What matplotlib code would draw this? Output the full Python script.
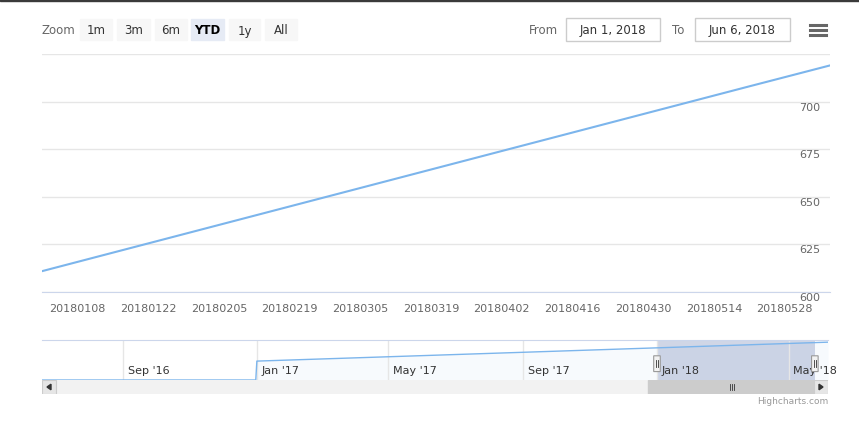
import matplotlib.pyplot as plt
import matplotlib.dates as mdates
import matplotlib.patches as mpatches
import numpy as np
import datetime as dt

W, H = 859, 435

# main series (roughly linear growth)
main_dates = ["2018-01-01", "2018-01-15", "2018-01-29", "2018-02-12", "2018-02-26",
              "2018-03-12", "2018-03-26", "2018-04-09", "2018-04-23", "2018-05-07",
              "2018-05-21", "2018-06-06"]
main_vals = [611, 620.7, 630.4, 640.1, 649.8, 659.5, 669.2, 678.9, 688.6, 698.3, 708, 719]

# navigator series
nav_dates = ["2016-06-19", "2016-12-31", "2017-01-01", "2017-06-01", "2018-01-01", "2018-06-06"]
nav_vals = [0, 0, 359, 463, 611, 719]

x_ticks = ["20180108", "20180122", "20180205", "20180219", "20180305", "20180319",
           "20180402", "20180416", "20180430", "20180514", "20180528"]
y_ticks = [600, 625, 650, 675, 700]
nav_ticks = ["2016-09-01", "2017-01-01", "2017-05-01", "2017-09-01", "2018-01-01", "2018-05-01"]
nav_labels = ["Sep '16", "Jan '17", "May '17", "Sep '17", "Jan '18", "May '18"]

def d(s):
    return dt.datetime.strptime(s, "%Y-%m-%d")

def box(x0, y0, x1, y1):
    return [x0 / W, 1 - y1 / H, (x1 - x0) / W, (y1 - y0) / H]

fig = plt.figure(figsize=(W / 100, H / 100), dpi=100)
txt = "#333333"
lc = "#7cb5ec"

# top dark border
fig.add_artist(mpatches.Rectangle((0, 1 - 2 / H), 1, 2 / H, color="#3a3a3a", transform=fig.transFigure))

# range selector
def px(x, y):
    return x / W, 1 - y / H

fig.text(*px(42, 31), "Zoom", fontsize=8.5, color="#666666", va="center")
btns = [("1m", 80, 112), ("3m", 117, 150), ("6m", 155, 187), ("YTD", 191, 224),
        ("1y", 229, 260), ("All", 265, 297)]
for lab, a, b in btns:
    sel = lab == "YTD"
    fig.add_artist(mpatches.Rectangle(px(a, 41), (b - a) / W, 21 / H, transform=fig.transFigure,
                                      color="#e6ebf5" if sel else "#f7f7f7"))
    fig.text(*px((a + b) / 2, 31), lab, fontsize=8.5, ha="center", va="center",
             color="#000000" if sel else txt, weight="bold" if sel else "normal")
fig.text(*px(529, 30), "From", fontsize=8.5, color="#666666", va="center")
fig.text(*px(672, 30), "To", fontsize=8.5, color="#666666", va="center")
for a, b, lab in [(566, 660, "Jan 1, 2018"), (695, 790, "Jun 6, 2018")]:
    fig.add_artist(mpatches.Rectangle(px(a, 42), (b - a) / W, 23 / H, transform=fig.transFigure,
                                      fill=False, ec="#cccccc", lw=1))
    fig.text(*px((a + b) / 2, 30.5), lab, fontsize=8.5, ha="center", va="center", color=txt)
for yy in (26, 31, 36):
    fig.add_artist(plt.Line2D([810 / W, 826 / W], [1 - yy / H] * 2, color="#666666", lw=2.2,
                              transform=fig.transFigure))

# main chart
ax = fig.add_axes(box(42, 55, 830, 293))
ax.plot([d(s) for s in main_dates], main_vals, color=lc, lw=1.5)
ax.set_xlim(d("2017-12-31") + dt.timedelta(hours=22), d("2018-06-06"))
ax.set_ylim(600, 725)
ax.set_yticks(y_ticks + [725])
ax.yaxis.tick_right()
ax.tick_params(axis="y", length=0, pad=-22, labelsize=8, labelcolor="#666666")
ax.set_yticklabels([str(v) for v in y_ticks] + [""])
for lab in ax.get_yticklabels():
    lab.set_verticalalignment("top")
ax.grid(axis="y", color="#e6e6e6", lw=1)
ax.set_xticks([dt.datetime.strptime(s, "%Y%m%d") for s in x_ticks])
ax.set_xticklabels(x_ticks)
ax.tick_params(axis="x", length=0, pad=8, labelsize=8, labelcolor="#666666")
for s in ["top", "left", "right"]:
    ax.spines[s].set_visible(False)
ax.spines["bottom"].set_color("#ccd6eb")
ax.set_axisbelow(True)

# navigator
nx0, nx1 = d("2016-06-19"), d("2018-06-06")
nav = fig.add_axes(box(42, 341, 828, 381))
nd = [d(s) for s in nav_dates]
nav.fill_between(nd, nav_vals, color=lc, alpha=0.06, lw=0)
nav.plot(nd, nav_vals, color=lc, lw=1)
nav.set_xlim(nx0, nx1)
nav.set_ylim(0, 760)
nav.set_yticks([])
nav.set_xticks([d(s) for s in nav_ticks])
nav.set_xticklabels([])
nav.tick_params(length=0)
nav.grid(axis="x", color="#e6e6e6", lw=1)
for s in ["bottom", "left", "right"]:
    nav.spines[s].set_visible(False)
nav.spines["top"].set_color("#ccd6eb")
for s, lab in zip(nav_ticks, nav_labels):
    nav.text(d(s) + dt.timedelta(days=4), 190, lab, fontsize=8, color=txt, va="center")
sel0, sel1 = d("2018-01-01"), d("2018-06-06") - dt.timedelta(days=12)
nav.axvspan(sel0, sel1, color="#667aaf", alpha=0.3, lw=0)
for xh in (sel0, sel1):
    xv = mdates.date2num(xh)
    nav.add_patch(mpatches.FancyBboxPatch((xv - 3, 160), 6, 300, boxstyle="round,pad=0",
                                          fc="#f2f2f2", ec="#999999", lw=0.8, zorder=5))
    nav.plot([xv - 0.8, xv - 0.8], [240, 380], color="#333333", lw=0.6, zorder=6)
    nav.plot([xv + 0.8, xv + 0.8], [240, 380], color="#333333", lw=0.6, zorder=6)

# scrollbar
sb = fig.add_axes(box(42, 381, 828, 395))
sb.set_xlim(0, 786)
sb.set_ylim(0, 1)
sb.axis("off")
sb.add_patch(mpatches.Rectangle((0, 0), 786, 1, color="#f2f2f2"))
sb.add_patch(mpatches.Rectangle((606, 0), 167, 1, color="#cccccc"))
for a in (0, 772):
    sb.add_patch(mpatches.Rectangle((a, 0), 14, 1, fc="#e6e6e6", ec="#cccccc", lw=0.8))
sb.add_patch(mpatches.Polygon([[9, 0.3], [9, 0.7], [5, 0.5]], color="#333333"))
sb.add_patch(mpatches.Polygon([[777, 0.3], [777, 0.7], [781, 0.5]], color="#333333"))
for k in (-2, 0, 2):
    sb.plot([689.5 + k] * 2, [0.3, 0.7], color="#333333", lw=0.6)

fig.text(*px(828, 402), "Highcharts.com", fontsize=6.5, color="#999999", ha="right", va="center")

fig.savefig("out.png", dpi=100)
